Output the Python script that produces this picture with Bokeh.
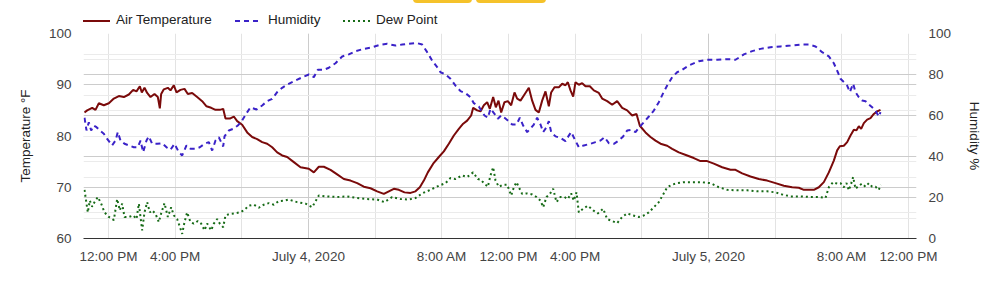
from bokeh.plotting import figure
from bokeh.layouts import column
from bokeh.models import Range1d, LinearAxis, FixedTicker, Grid, Div
from bokeh.embed import file_html
from bokeh.resources import INLINE

# Time axis: hours since 2020-07-03 00:00
temp_hours = [10.56, 10.72, 11.02, 11.22, 11.42, 11.72, 12.02, 12.32, 12.62, 12.92,
              13.22, 13.48, 13.68, 13.88, 14.00, 14.16, 14.32, 14.52, 14.76, 14.96,
              15.08, 15.16, 15.32, 15.56, 15.72, 15.92, 16.08, 16.32, 16.56, 16.76,
              17.02, 17.32, 17.62, 17.88, 18.16, 18.42, 18.68, 18.88, 19.02, 19.28,
              19.52, 19.72, 20.02, 20.32, 20.62, 20.92, 21.22, 21.52, 21.82, 22.12,
              22.42, 22.72, 23.12, 23.52, 24.02, 24.32, 24.62, 24.92, 25.32, 25.72,
              26.12, 26.52, 26.92, 27.32, 27.72, 28.12, 28.52, 28.82, 29.12, 29.42,
              29.76, 30.12, 30.42, 30.68, 30.92, 31.16, 31.48, 31.82, 32.12, 32.42,
              32.72, 33.02, 33.28, 33.52, 33.76, 33.88, 34.12, 34.32, 34.52, 34.72,
              34.88, 35.08, 35.24, 35.40, 35.56, 35.76, 35.96, 36.16, 36.36, 36.52,
              36.72, 36.92, 37.22, 37.42, 37.62, 37.82, 38.02, 38.22, 38.42, 38.56,
              38.76, 39.02, 39.22, 39.42, 39.56, 39.72, 39.88, 40.02, 40.22, 40.42,
              40.62, 40.88, 41.12, 41.42, 41.62, 41.92, 42.22, 42.52, 42.82, 43.12,
              43.42, 43.68, 43.88, 44.22, 44.52, 44.82, 45.12, 45.52, 45.82, 46.22,
              46.72, 47.12, 47.52, 47.92, 48.32, 48.82, 49.32, 49.62, 50.02, 50.52,
              51.02, 51.52, 52.02, 52.52, 53.02, 53.42, 53.72, 54.02, 54.32, 54.62,
              54.92, 55.22, 55.52, 55.72, 55.88, 56.12, 56.32, 56.52, 56.72, 56.88,
              57.02, 57.16, 57.32, 57.52, 57.72, 57.92, 58.12, 58.32]
temp_f = [84.6, 85.0, 85.5, 85.1, 86.4, 86.0, 86.4, 87.3, 87.8, 87.6,
          88.1, 89.0, 88.7, 89.7, 88.5, 89.4, 88.4, 87.6, 88.2, 87.6,
          85.4, 88.2, 89.1, 89.4, 88.9, 89.9, 88.5, 89.0, 89.2, 88.2,
          88.4, 87.6, 86.8, 85.8, 85.5, 85.1, 85.1, 85.3, 83.4, 83.4,
          83.8, 82.9, 82.2, 80.7, 79.8, 79.4, 78.8, 78.5, 77.8, 76.8,
          76.2, 75.9, 74.9, 73.9, 73.6, 72.9, 74.0, 74.0, 73.4, 72.5,
          71.6, 71.3, 70.8, 70.1, 69.8, 69.2, 68.7, 69.2, 69.7, 69.5,
          69.0, 68.9, 69.2, 70.0, 71.3, 72.9, 74.6, 75.9, 77.0, 78.5,
          80.1, 81.4, 82.4, 83.0, 84.0, 85.5, 85.0, 84.8, 86.0, 86.6,
          85.3, 87.6, 85.6, 86.9, 84.6, 86.6, 86.8, 86.0, 88.5, 87.3,
          86.9, 87.9, 89.4, 86.9, 85.1, 84.6, 86.9, 88.7, 85.8, 88.5,
          89.5, 89.5, 90.2, 89.9, 90.5, 88.9, 87.7, 90.5, 90.0, 90.3,
          89.7, 89.7, 88.9, 88.4, 87.3, 86.8, 86.1, 86.8, 85.5, 85.0,
          84.0, 84.3, 82.0, 80.7, 79.8, 79.1, 78.5, 78.1, 77.5, 76.8,
          76.2, 75.7, 75.1, 75.1, 74.6, 73.9, 73.4, 73.4, 72.7, 72.1,
          71.6, 71.3, 70.8, 70.3, 70.0, 69.9, 69.5, 69.5, 69.5, 70.0,
          71.0, 72.9, 75.2, 77.2, 78.0, 78.1, 78.8, 80.1, 81.2, 81.1,
          81.9, 81.4, 82.5, 83.2, 83.5, 84.3, 84.8, 85.1]

hum_hours = [10.56, 10.68, 10.82, 10.96, 11.12, 11.28, 11.48, 11.72, 11.92, 12.22,
             12.42, 12.56, 12.72, 12.96, 13.22, 13.52, 13.76, 13.92, 14.08, 14.28,
             14.42, 14.62, 14.92, 15.22, 15.48, 15.72, 15.96, 16.22, 16.42, 16.68,
             16.92, 17.22, 17.48, 17.76, 18.02, 18.22, 18.42, 18.62, 18.88, 18.96,
             19.22, 19.48, 19.76, 20.02, 20.28, 20.52, 20.88, 21.22, 21.52, 21.82,
             22.12, 22.42, 22.72, 23.22, 23.72, 24.02, 24.32, 24.56, 24.92, 25.22,
             25.62, 26.02, 26.42, 26.82, 27.32, 27.82, 28.22, 28.72, 29.22, 29.62,
             30.02, 30.52, 30.82, 31.12, 31.42, 31.72, 31.92, 32.22, 32.52, 32.82,
             33.12, 33.42, 33.72, 33.92, 34.22, 34.32, 34.56, 34.76, 34.92, 35.16,
             35.36, 35.56, 35.76, 35.96, 36.22, 36.48, 36.68, 36.88, 37.12, 37.36,
             37.52, 37.72, 37.92, 38.08, 38.28, 38.42, 38.56, 38.82, 39.12, 39.42,
             39.62, 39.76, 39.96, 40.22, 40.52, 40.92, 41.22, 41.52, 41.76, 42.02,
             42.32, 42.62, 42.88, 43.12, 43.36, 43.62, 43.82, 44.12, 44.42, 44.72,
             45.02, 45.28, 45.52, 45.82, 46.12, 46.42, 46.82, 47.42, 47.92, 48.52,
             49.12, 49.62, 50.12, 50.62, 51.12, 51.72, 52.32, 52.92, 53.52, 54.02,
             54.42, 54.82, 55.22, 55.52, 55.76, 55.92, 56.12, 56.32, 56.48, 56.68,
             56.82, 57.02, 57.22, 57.42, 57.62, 57.82, 58.02, 58.22, 58.32]
hum_pct = [58.9, 52.7, 56.7, 52.7, 55.1, 54.3, 52.7, 51.1, 48.6, 45.4,
           47.8, 51.9, 47.8, 46.2, 45.4, 44.5, 44.5, 47.8, 42.1, 47.8,
           49.8, 46.2, 46.2, 46.5, 44.5, 43.3, 46.2, 42.1, 40.5, 45.4,
           43.8, 43.8, 44.5, 46.2, 47.0, 42.9, 47.8, 49.4, 44.9, 49.8,
           52.7, 53.5, 55.1, 57.6, 61.1, 64.0, 62.9, 64.9, 67.0, 68.1,
           71.4, 73.5, 75.1, 77.1, 79.0, 80.0, 78.7, 82.3, 82.3, 83.3,
           85.5, 88.8, 89.8, 91.4, 92.5, 93.3, 94.3, 95.0, 94.1, 94.6,
           95.0, 95.3, 94.6, 90.9, 86.8, 83.6, 81.1, 80.0, 77.9, 74.6,
           71.9, 70.9, 68.9, 66.0, 64.4, 63.0, 60.0, 58.9, 63.3, 60.8,
           58.4, 60.0, 58.9, 57.6, 55.6, 55.6, 58.9, 55.1, 51.9, 54.0,
           55.6, 58.9, 55.6, 51.9, 54.3, 57.2, 51.9, 49.8, 49.1, 47.5,
           50.2, 51.9, 48.6, 44.5, 45.4, 46.2, 47.0, 47.8, 49.4, 46.5,
           46.2, 47.8, 49.8, 52.7, 53.0, 51.9, 54.0, 56.7, 59.5, 62.4,
           66.5, 70.9, 74.6, 78.7, 81.1, 82.3, 84.4, 86.5, 87.2, 87.2,
           87.5, 87.2, 89.8, 91.4, 92.5, 93.3, 93.7, 94.1, 94.6, 94.6,
           93.7, 90.9, 88.8, 85.5, 81.1, 77.9, 76.3, 74.6, 71.4, 75.5,
           71.4, 68.9, 67.3, 67.0, 65.4, 64.0, 62.4, 59.5, 61.6]

dew_hours = [10.56, 10.68, 10.76, 10.88, 11.02, 11.16, 11.36, 11.56, 11.76, 12.02,
             12.32, 12.52, 12.68, 12.82, 12.96, 13.22, 13.48, 13.68, 13.82, 13.92,
             14.02, 14.16, 14.32, 14.48, 14.62, 14.82, 15.02, 15.16, 15.36, 15.56,
             15.76, 15.92, 16.12, 16.32, 16.42, 16.56, 16.72, 16.92, 17.12, 17.36,
             17.56, 17.76, 17.92, 18.16, 18.32, 18.52, 18.68, 18.88, 19.02, 19.28,
             19.56, 19.88, 20.12, 20.42, 20.72, 21.02, 21.32, 21.62, 21.92, 22.22,
             22.56, 22.82, 23.32, 23.82, 24.22, 24.62, 25.12, 25.72, 26.32, 26.92,
             27.52, 28.12, 28.56, 29.02, 29.52, 30.02, 30.42, 30.82, 31.32, 31.82,
             32.22, 32.52, 32.82, 33.22, 33.52, 33.88, 34.16, 34.32, 34.56, 34.76,
             34.92, 35.08, 35.22, 35.42, 35.68, 35.92, 36.16, 36.32, 36.48, 36.62,
             36.82, 37.12, 37.42, 37.68, 37.92, 38.08, 38.28, 38.48, 38.68, 38.88,
             39.12, 39.36, 39.56, 39.76, 39.92, 40.08, 40.22, 40.48, 40.76, 41.08,
             41.36, 41.68, 41.92, 42.22, 42.52, 42.82, 43.12, 43.48, 43.82, 44.12,
             44.42, 44.72, 45.02, 45.28, 45.52, 45.82, 46.12, 46.52, 46.92, 47.52,
             48.12, 48.62, 49.12, 49.72, 50.32, 50.92, 51.52, 52.02, 52.42, 52.92,
             53.52, 54.12, 54.62, 55.02, 55.22, 55.48, 55.72, 55.92, 56.12, 56.28,
             56.42, 56.56, 56.68, 56.82, 57.02, 57.22, 57.42, 57.62, 57.82, 58.02,
             58.22, 58.32]
dew_f = [69.5, 66.8, 65.1, 67.4, 66.2, 67.1, 68.1, 66.8, 65.1, 64.2,
         63.6, 67.7, 65.5, 66.8, 64.2, 64.2, 64.5, 63.8, 66.8, 64.2,
         61.6, 65.1, 67.1, 65.1, 65.5, 64.8, 63.2, 64.9, 66.9, 64.2,
         66.1, 64.5, 63.8, 61.9, 60.9, 63.2, 65.1, 63.2, 62.9, 63.4,
         62.9, 61.6, 62.9, 61.6, 62.9, 63.8, 62.9, 62.2, 64.5, 64.8,
         64.9, 65.1, 65.5, 66.4, 66.6, 66.0, 66.6, 66.9, 66.6, 67.3,
         67.4, 67.6, 67.1, 66.8, 66.1, 68.4, 68.2, 68.1, 68.2, 67.9,
         67.7, 67.6, 67.1, 68.1, 67.7, 67.6, 67.9, 68.8, 69.5, 70.3,
         70.8, 71.8, 71.6, 72.3, 72.0, 72.9, 71.6, 71.5, 70.7, 70.1,
         72.3, 73.9, 71.3, 70.1, 70.5, 70.5, 68.4, 70.0, 71.0, 70.0,
         68.7, 68.8, 68.6, 68.1, 67.4, 66.1, 68.1, 68.7, 69.7, 67.1,
         68.1, 68.1, 67.7, 68.8, 67.4, 69.0, 65.1, 65.8, 66.4, 65.5,
         64.9, 65.8, 63.8, 63.4, 63.0, 64.2, 64.9, 64.5, 64.2, 64.5,
         65.1, 66.1, 67.1, 68.6, 70.0, 70.5, 70.8, 71.0, 71.0, 71.0,
         70.8, 70.0, 69.5, 69.4, 69.4, 69.2, 69.2, 69.0, 68.6, 68.2,
         68.2, 68.1, 68.1, 67.9, 70.0, 71.0, 70.7, 70.8, 70.0, 70.8,
         69.4, 70.7, 72.0, 69.7, 70.3, 70.7, 70.1, 70.8, 70.1, 70.1,
         69.5, 70.5]

series_names = ["Air Temperature", "Humidity", "Dew Point"]
series_colors = ["#7a0a0a", "#3a22c8", "#176b17"]
series_dashes = ["solid", "5 4", "2 3"]

x_ticks = [12, 16, 20, 24, 28, 32, 36, 40, 44, 48, 52, 56, 60]
x_tick_labels = ["12:00 PM", "4:00 PM", "", "July 4, 2020", "", "8:00 AM", "12:00 PM",
                 "4:00 PM", "", "July 5, 2020", "", "8:00 AM", "12:00 PM"]
day_ticks = [24, 48]
temp_ticks = [60, 70, 80, 90, 100]
temp_minor = [65, 75, 85, 95]
hum_ticks = [0, 20, 40, 60, 80, 100]
hum_minor = [10, 30, 50, 70, 90]

FONT = "Liberation Sans"
FS = "13.5px"
DIV_H = 20

p = figure(width=1000, height=306 - DIV_H, output_backend="svg", toolbar_location=None,
           x_range=Range1d(10.5, 60.48), y_range=Range1d(60, 100),
           min_border_left=83, min_border_right=84, min_border_top=33 - DIV_H,
           min_border_bottom=68)
p.title = None
p.outline_line_color = None
p.background_fill_color = "white"
p.border_fill_alpha = 0
p.extra_y_ranges = {"hum": Range1d(0, 100)}
p.add_layout(LinearAxis(y_range_name="hum", axis_label="Humidity %"), "right")

p.yaxis[0].axis_label = "Temperature °F"
p.yaxis[0].ticker = FixedTicker(ticks=temp_ticks)
p.yaxis[1].ticker = FixedTicker(ticks=hum_ticks)
p.xaxis.ticker = FixedTicker(ticks=x_ticks)
p.xaxis.major_label_overrides = dict(zip(x_ticks, x_tick_labels))

for ax in p.axis:
    ax.major_tick_line_color = None
    ax.minor_tick_line_color = None
    ax.major_tick_out = 0
    ax.major_label_text_font = FONT
    ax.major_label_text_font_size = FS
    ax.major_label_text_color = "#444444"
    ax.axis_label_text_font = FONT
    ax.axis_label_text_font_size = FS
    ax.axis_label_text_font_style = "normal"
    ax.axis_label_text_color = "#222222"
for ax in p.yaxis:
    ax.axis_line_color = None
    ax.major_label_standoff = 12
    ax.axis_label_standoff = 13
p.xaxis.axis_line_color = "#333333"
p.xaxis.major_label_standoff = 10

p.xgrid.ticker = FixedTicker(ticks=x_ticks)
p.xgrid.grid_line_color = "#e3e3e3"
p.ygrid.ticker = FixedTicker(ticks=temp_ticks)
p.ygrid.grid_line_color = "#cccccc"
p.add_layout(Grid(dimension=0, ticker=FixedTicker(ticks=day_ticks), grid_line_color="#cccccc"))
p.add_layout(Grid(dimension=1, ticker=FixedTicker(ticks=hum_ticks), y_range_name="hum",
                  grid_line_color="#cccccc"))
p.add_layout(Grid(dimension=1, ticker=FixedTicker(ticks=temp_minor), grid_line_color="#ebebeb"))
p.add_layout(Grid(dimension=1, ticker=FixedTicker(ticks=hum_minor), y_range_name="hum",
                  grid_line_color="#ebebeb"))

p.line(temp_hours, temp_f, line_color=series_colors[0], line_width=2)
p.line(hum_hours, hum_pct, line_color=series_colors[1], line_width=2,
       line_dash=series_dashes[1], y_range_name="hum")
p.line(dew_hours, dew_f, line_color=series_colors[2], line_width=2, line_dash=series_dashes[2])

# Legend row (HTML) above the plot frame, plus the page controls cropped at the top edge
legend_x = [83, 235, 343]
items = []
for name, col, dash, lx in zip(series_names, series_colors, series_dashes, legend_x):
    da = "" if dash == "solid" else f' stroke-dasharray="{dash}"'
    items.append(
        f'<svg style="position:absolute;left:{lx}px;top:19px" width="27" height="4">'
        f'<line x1="0" y1="2" x2="27" y2="2" stroke="{col}" stroke-width="2"{da}/></svg>'
        f'<span style="position:absolute;left:{lx + 33}px;top:12px;line-height:16px;'
        f'white-space:nowrap">{name}</span>')
html = (
    f'<div style="position:relative;width:1000px;height:{DIV_H}px;overflow:visible;'
    f'font-family:\'{FONT}\';font-size:{FS};color:#222222">'
    '<div style="position:absolute;left:89px;top:-10px;width:178px;height:10px;'
    'border:1px solid #d6d6d6;border-radius:5px"></div>'
    '<div style="position:absolute;left:413px;top:-8px;width:59px;height:11px;'
    'background:#f5c22a;border-radius:4px"></div>'
    '<div style="position:absolute;left:476px;top:-8px;width:70px;height:11px;'
    'background:#f5c22a;border-radius:4px"></div>'
    + "".join(items) + '</div>')
legend_div = Div(text=html, width=1000, height=DIV_H, margin=0)

layout = column(legend_div, p, spacing=0)
open("out.html", "w").write(file_html(layout, INLINE))
